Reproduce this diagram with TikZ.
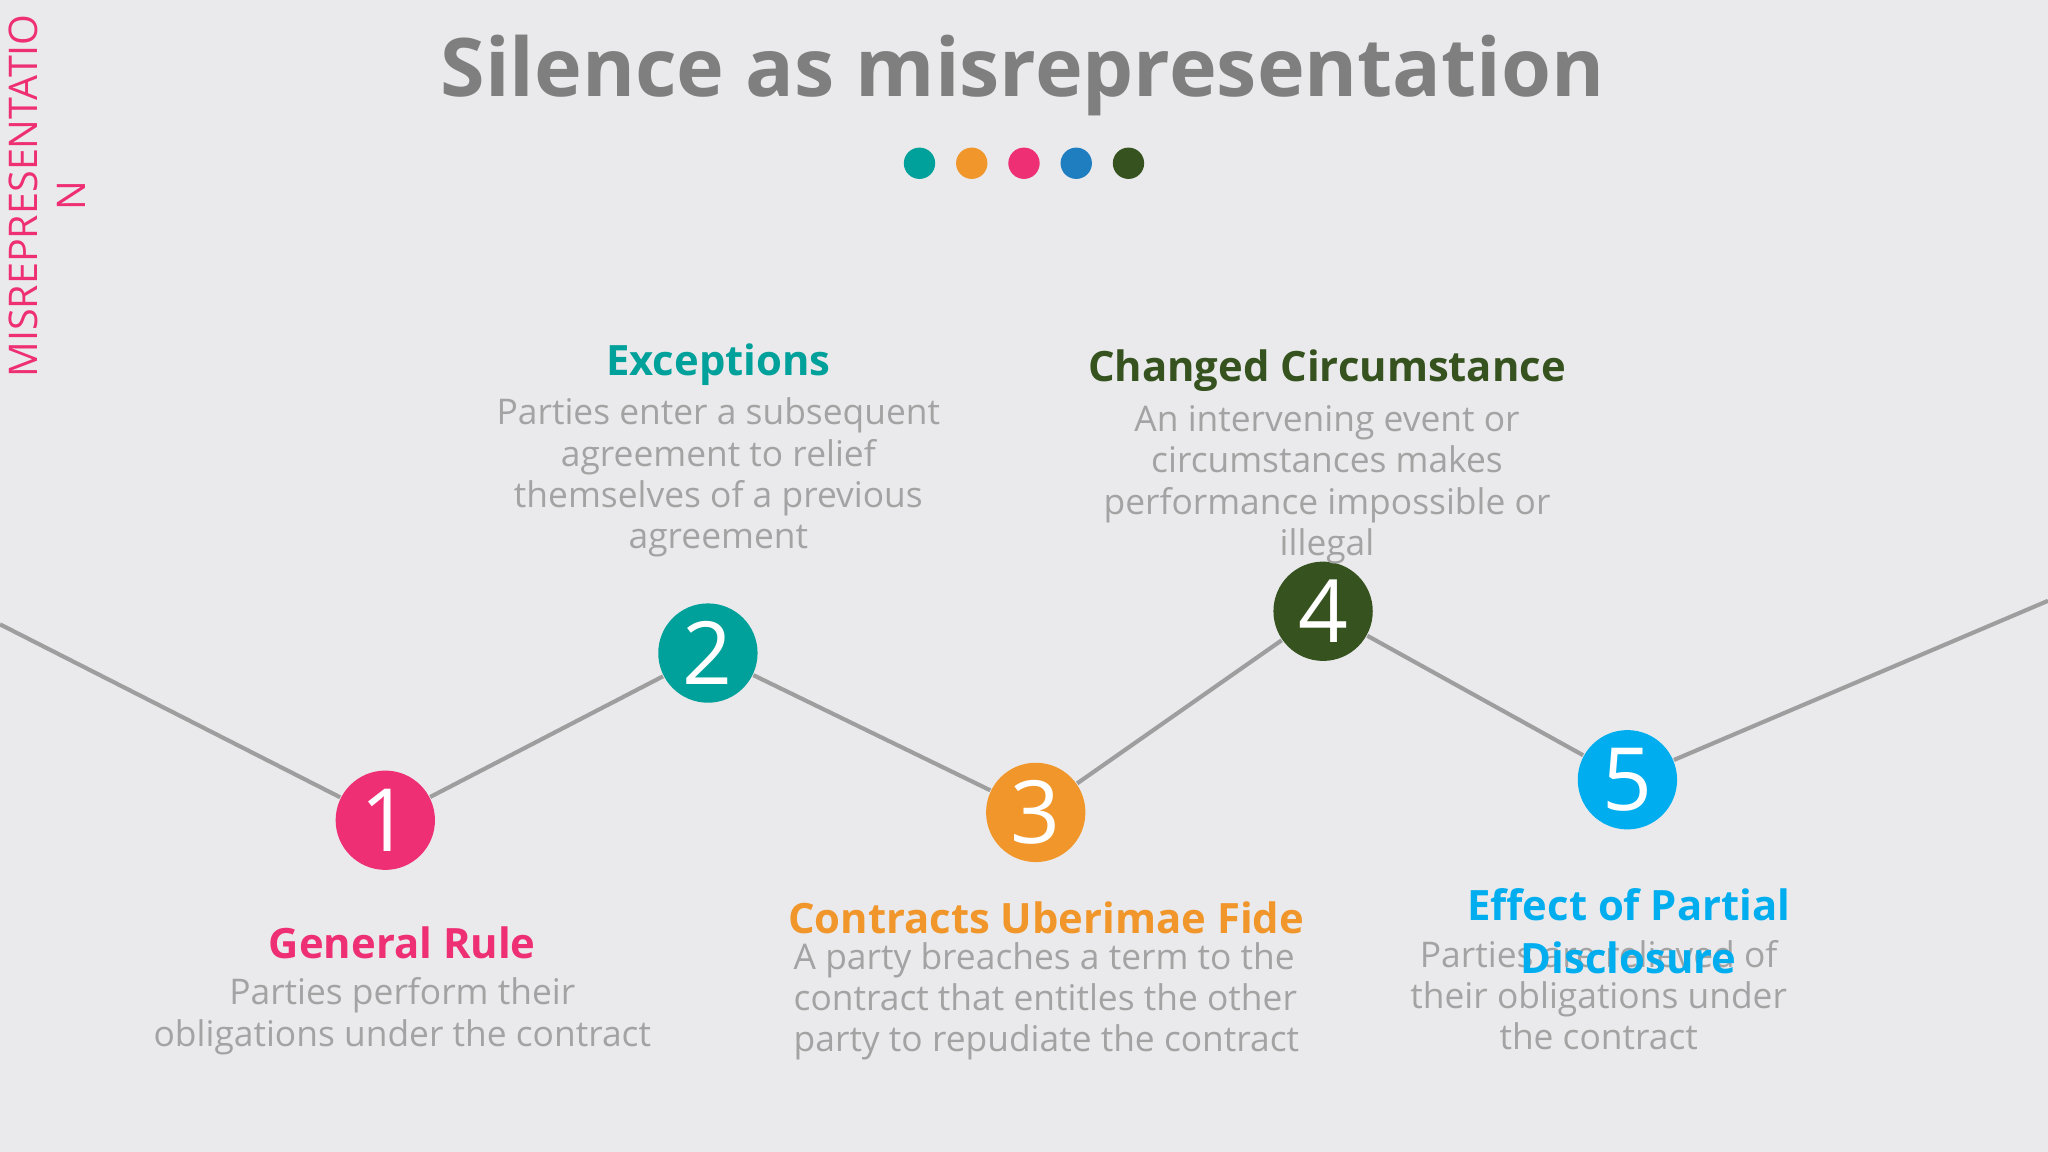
\documentclass[tikz,border=0pt]{standalone}
\usepackage{fontspec}
\setmainfont{Open Sans}
\definecolor{bg}{HTML}{EAEAEC}
\definecolor{ttl}{HTML}{7F7F7F}
\definecolor{body}{HTML}{A3A3A3}
\definecolor{cpink}{HTML}{EE2F74}
\definecolor{cteal}{HTML}{00A19A}
\definecolor{corange}{HTML}{F0962A}
\definecolor{cgreen}{HTML}{36531F}
\definecolor{cblue}{HTML}{00AEEF}
\definecolor{cdblue}{HTML}{1F7EC0}
\definecolor{lin}{HTML}{9E9E9E}
\begin{document}
\begin{tikzpicture}[x=0.01cm,y=-0.01cm,
  num/.style={circle,inner sep=0pt,minimum size=0.76cm,text=white,font=\fontsize{19}{19}\selectfont},
  head/.style={font=\fontsize{9.1}{11}\selectfont\bfseries,inner sep=0pt},
  bodytxt/.style={font=\fontsize{7.7}{8.96}\selectfont,text=body,inner sep=0pt,align=center},
  dot/.style={circle,minimum size=0.24cm,inner sep=0pt}]
\fill[bg] (0,0) rectangle (1568,882);
\useasboundingbox (0,0) rectangle (1568,882);
\node[text=ttl,font=\fontsize{17.6}{20}\selectfont\bfseries] (title) at (783,58) {Silence as misrepresentation};
\node[dot,fill=cteal] (d1) at (704,125) {};
\node[dot,fill=corange] (d2) at (744,125) {};
\node[dot,fill=cpink] (d3) at (784,125) {};
\node[dot,fill=cdblue] (d4) at (824,125) {};
\node[dot,fill=cgreen] (d5) at (864,125) {};
\node[rotate=90,text=cpink,font=\fontsize{8.6}{10.5}\selectfont,align=center,anchor=north,inner sep=0pt] (side) at (6,150) {MISREPRESENTATIO\\N};
\coordinate (s) at (0,478);
\coordinate (e) at (1568,460);
\node[num,fill=cpink] (n1) at (295,628) {1};
\node[num,fill=cteal] (n2) at (542,500) {2};
\node[num,fill=corange] (n3) at (793,622) {3};
\node[num,fill=cgreen] (n4) at (1013,468) {4};
\node[num,fill=cblue] (n5) at (1246,597) {5};
\draw[lin,line width=0.9pt] (s) -- (n1) -- (n2) -- (n3) -- (n4) -- (n5) -- (e);
\node[head,text=cpink] (h1) at (308,722) {General Rule};
\node[bodytxt,anchor=north] (b1) at (308,748) {Parties perform their\\obligations under the contract};
\node[head,text=cteal] (h2) at (550,279) {Exceptions};
\node[bodytxt,anchor=north] (b2) at (550,304) {Parties enter a subsequent\\agreement to relief\\themselves of a previous\\agreement};
\node[head,text=corange] (h3) at (801,703) {Contracts Uberimae Fide};
\node[bodytxt,align=left,anchor=north west] (b3) at (607,721) {A party breaches a term to the\\contract that entitles the other\\party to repudiate the contract};
\node[head,text=cgreen] (h4) at (1016,284) {Changed Circumstance};
\node[bodytxt,anchor=north] (b4) at (1016,310) {An intervening event or\\circumstances makes\\performance impossible or\\illegal};
\node[bodytxt,anchor=north] (b5) at (1224,719) {Parties are relieved of\\their obligations under\\the contract};
\node[head,text=cblue,align=center,font=\fontsize{9.1}{11.4}\selectfont\bfseries] (h5) at (1247,713) {Effect of Partial\\Disclosure};
\end{tikzpicture}
\end{document}
